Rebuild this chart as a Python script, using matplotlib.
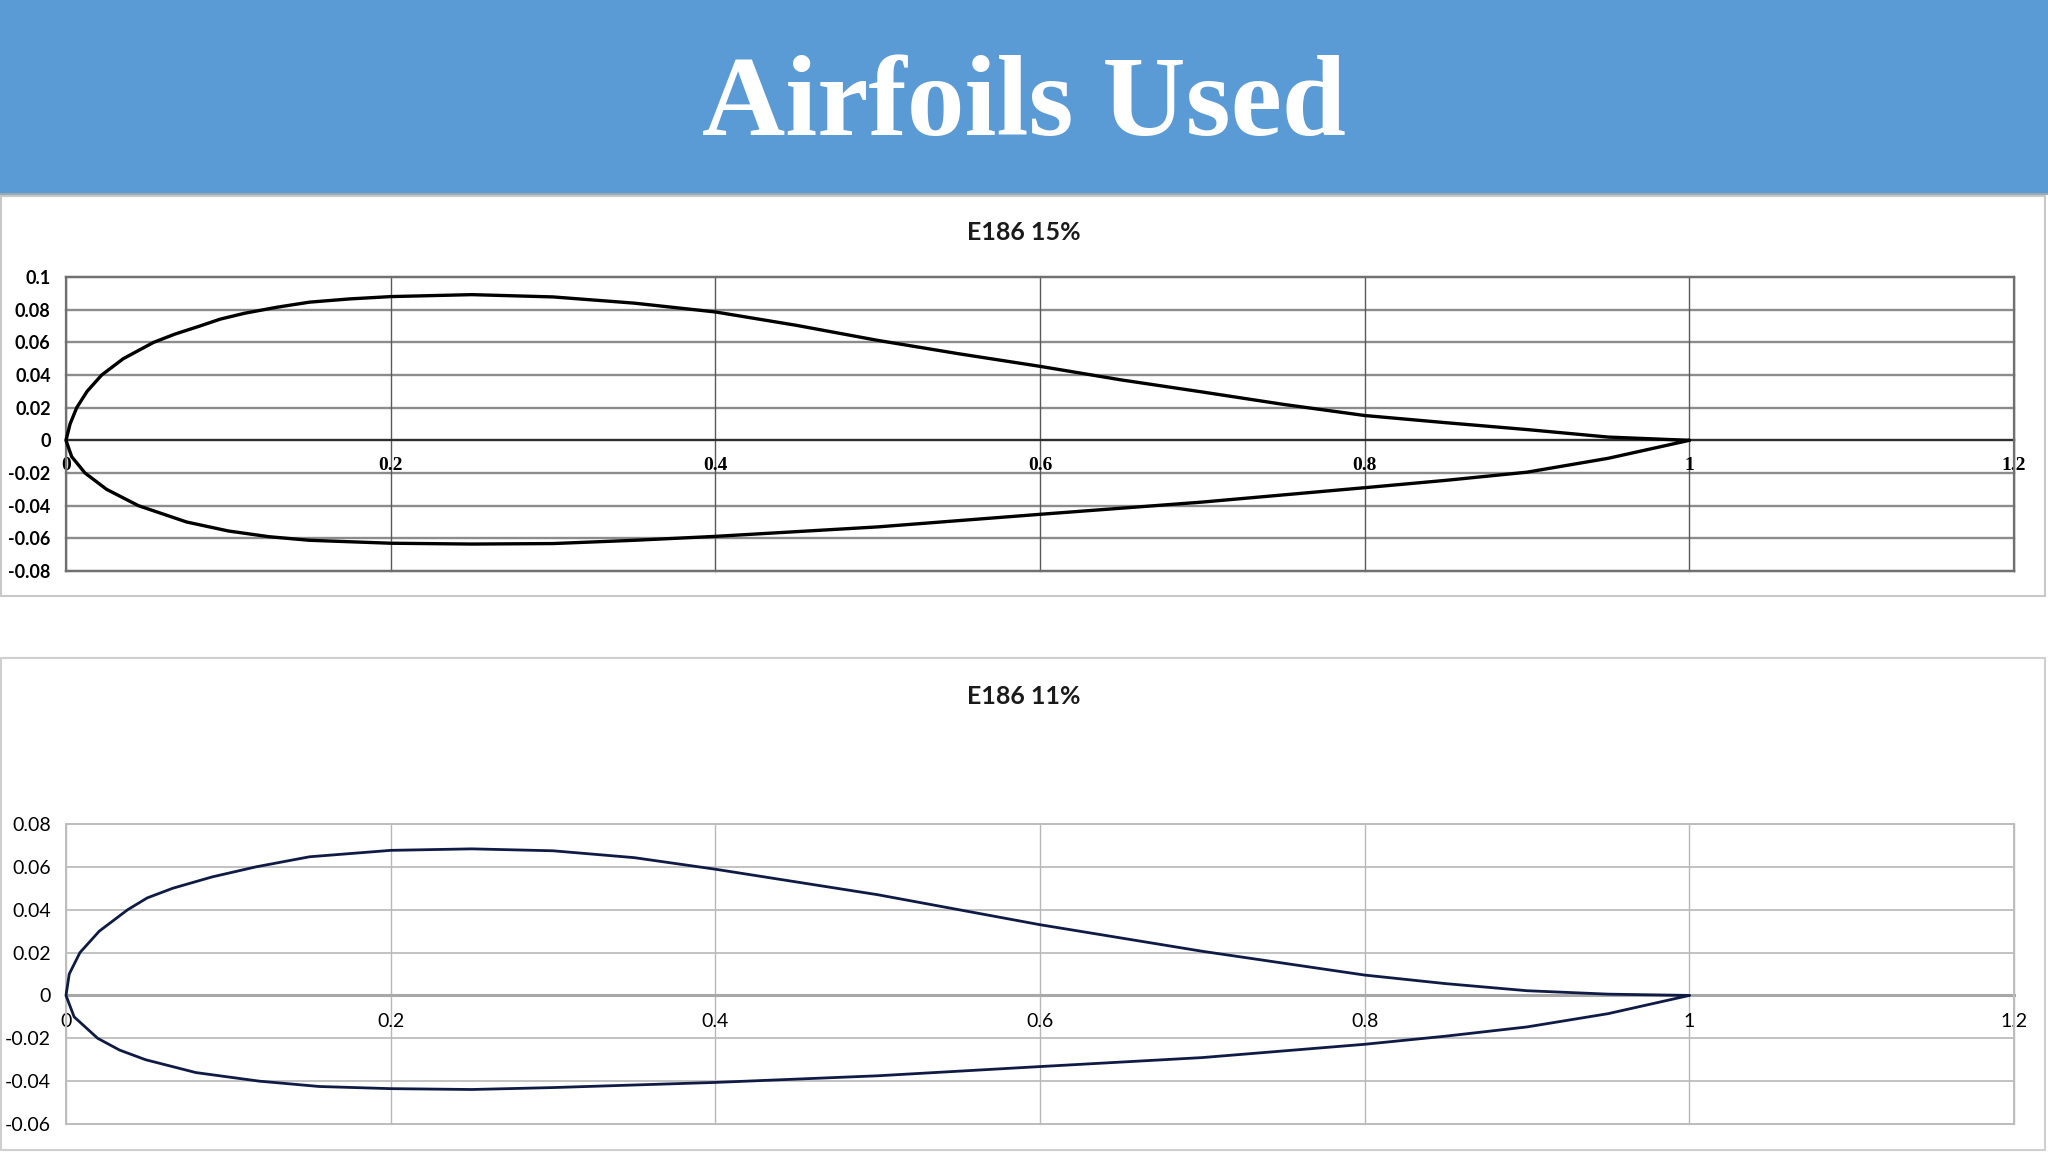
import numpy as np
import matplotlib
matplotlib.use("Agg")
import matplotlib.pyplot as plt
from matplotlib.patches import Rectangle

# ---------------- data ----------------
page_title = "Airfoils Used"

title_15 = "E186 15%"
upper_x_15 = [1.0, 0.95, 0.9, 0.85, 0.8, 0.75, 0.7, 0.65, 0.6, 0.55, 0.5, 0.45, 0.4, 0.35, 0.3,
              0.25, 0.2, 0.175, 0.15, 0.13, 0.11, 0.095, 0.0825, 0.067, 0.054, 0.0353, 0.022,
              0.013, 0.0066, 0.0025, 0.0]
upper_y_15 = [0.0, 0.0020, 0.0066, 0.0108, 0.0152, 0.0220, 0.0296, 0.0370, 0.0453, 0.0530, 0.0612,
              0.0704, 0.0786, 0.0840, 0.0878, 0.0892, 0.0880, 0.0866, 0.0846, 0.0815, 0.0778,
              0.0742, 0.0700, 0.0650, 0.0600, 0.0500, 0.0400, 0.0300, 0.0200, 0.0100, 0.0]
lower_x_15 = [0.0, 0.0035, 0.0117, 0.025, 0.0446, 0.0743, 0.1, 0.125, 0.15, 0.2, 0.25, 0.3, 0.35,
              0.4, 0.5, 0.6, 0.7, 0.8, 0.85, 0.9, 0.95, 1.0]
lower_y_15 = [0.0, -0.0100, -0.0200, -0.0300, -0.0400, -0.0500, -0.0555, -0.0590, -0.0612, -0.0630,
              -0.0635, -0.0632, -0.0612, -0.0588, -0.0530, -0.0453, -0.0378, -0.0290, -0.0245,
              -0.0195, -0.0110, 0.0]

title_11 = "E186 11%"
upper_x_11 = [1.0, 0.95, 0.9, 0.85, 0.8, 0.7, 0.6, 0.5, 0.4, 0.35, 0.3, 0.25, 0.2, 0.15, 0.117,
              0.09, 0.0657, 0.05, 0.038, 0.0205, 0.0086, 0.002, 0.0]
upper_y_11 = [0.0, 0.0006, 0.0022, 0.0055, 0.0095, 0.0206, 0.0330, 0.0470, 0.0589, 0.0643, 0.0675,
              0.0684, 0.0677, 0.0647, 0.0600, 0.0553, 0.0500, 0.0455, 0.0400, 0.0300, 0.0200,
              0.0100, 0.0]
lower_x_11 = [0.0, 0.005, 0.0195, 0.033, 0.049, 0.08, 0.119, 0.156, 0.2, 0.25, 0.3, 0.4, 0.5, 0.6,
              0.7, 0.8, 0.85, 0.9, 0.95, 1.0]
lower_y_11 = [0.0, -0.0100, -0.0200, -0.0255, -0.0300, -0.0360, -0.0400, -0.0425, -0.0435, -0.0439,
              -0.0430, -0.0406, -0.0375, -0.0332, -0.0290, -0.0228, -0.0190, -0.0147, -0.0085, 0.0]

x_ticks = [0, 0.2, 0.4, 0.6, 0.8, 1.0, 1.2]
x_tick_labels = ["0", "0.2", "0.4", "0.6", "0.8", "1", "1.2"]
y_ticks_15 = [-0.08, -0.06, -0.04, -0.02, 0, 0.02, 0.04, 0.06, 0.08, 0.1]
y_tick_labels_15 = ["-0.08", "-0.06", "-0.04", "-0.02", "0", "0.02", "0.04", "0.06", "0.08", "0.1"]
y_ticks_11 = [-0.06, -0.04, -0.02, 0, 0.02, 0.04, 0.06, 0.08]
y_tick_labels_11 = ["-0.06", "-0.04", "-0.02", "0", "0.02", "0.04", "0.06", "0.08"]

# ---------------- figure ----------------
W, H = 2048, 1152
fig = plt.figure(figsize=(W / 100, H / 100), dpi=100)
fig.patch.set_facecolor("white")

def fy(px):
    return 1 - px / H

# header band
fig.patches.append(Rectangle((0, fy(193)), 1, 193 / H, transform=fig.transFigure,
                             facecolor="#5B9BD5", edgecolor="none", zorder=-5))
fig.patches.append(Rectangle((0, fy(195)), 1, 2 / H, transform=fig.transFigure,
                             facecolor="#9aa7b5", edgecolor="none", zorder=-5))
fig.text(0.5, fy(135), page_title, ha="center", va="baseline", color="white",
         fontsize=83, fontweight="bold", family=["Liberation Serif", "DejaVu Serif"])

# chart panels
fig.patches.append(Rectangle((1 / W, fy(596)), 2044 / W, (596 - 196) / H, transform=fig.transFigure,
                             facecolor="white", edgecolor="#c8c8c8", lw=1.5, zorder=-5))
fig.patches.append(Rectangle((1 / W, fy(1150)), 2044 / W, (1150 - 658) / H, transform=fig.transFigure,
                             facecolor="white", edgecolor="#cfcfcf", lw=1.5, zorder=-5))

sans = ["Liberation Sans Narrow", "Lato", "DejaVu Sans"]

def make_chart(rect, title, title_y, ux, uy, lx, ly, yticks, ylabels, style):
    ax = fig.add_axes(rect)
    ax.set_zorder(2)
    ax.set_facecolor("none")
    ymin, ymax = yticks[0], yticks[-1]
    ax.set_xlim(0, 1.2)
    ax.set_ylim(ymin, ymax)
    ax.set_xticks(x_ticks)
    ax.set_xticklabels(x_tick_labels)
    ax.set_yticks(yticks)
    ax.set_yticklabels(ylabels)
    # gridlines
    for yv in yticks:
        if yv == 0:
            continue
        ax.axhline(yv, color=style["hgrid"], lw=style["hlw"], zorder=1, clip_on=False)
    for xv in x_ticks:
        ax.axvline(xv, color=style["vgrid"], lw=style["vlw"], zorder=1, clip_on=False)
    # frame
    for side in ("top", "left", "right"):
        ax.spines[side].set_color(style["frame"])
        ax.spines[side].set_linewidth(style["flw"])
    ax.axhline(ymin, color=style["frame"], lw=style["flw"], zorder=1.5, clip_on=False)
    # zero axis carries the x labels
    ax.spines["bottom"].set_position(("data", 0))
    ax.spines["bottom"].set_color(style["zero"])
    ax.spines["bottom"].set_linewidth(style["zlw"])
    ax.spines["bottom"].set_zorder(1.8)
    ax.tick_params(axis="x", length=0, pad=style["xpad"])
    ax.tick_params(axis="y", length=0, pad=11)
    for lab in ax.get_xticklabels():
        lab.set_family(style["xfont"])
        lab.set_fontsize(style["xsize"])
        lab.set_fontweight(style["xweight"])
    for lab in ax.get_yticklabels():
        lab.set_family(sans)
        lab.set_fontsize(style["ysize"])
        lab.set_fontweight(style["yweight"])
    # airfoil outline
    xs = list(ux) + list(lx)
    ys = list(uy) + list(ly)
    ax.plot(xs, ys, color=style["curve"], lw=style["clw"], solid_joinstyle="round",
            solid_capstyle="round", zorder=3, clip_on=False)
    fig.text(0.5, title_y, title, ha="center", va="center", fontsize=18,
             fontweight="bold", family=sans, color="#1a1a1a")
    return ax

style_top = dict(hgrid="#8c8c8c", hlw=1.7, vgrid="#5a5a5a", vlw=1.0, frame="#707070", flw=1.6,
                 zero="#2e2e2e", zlw=1.7, xpad=12, xfont=["Liberation Serif", "DejaVu Serif"],
                 xsize=14, xweight="bold", ysize=13, yweight="bold", curve="#000000", clw=2.4)
style_bot = dict(hgrid="#c2c2c2", hlw=1.4, vgrid="#b8b8b8", vlw=1.0, frame="#bdbdbd", flw=1.4,
                 zero="#a8a8a8", zlw=2.2, xpad=13, xfont=sans,
                 xsize=14, xweight="normal", ysize=14, yweight="normal", curve="#0f1b45", clw=2.0)

make_chart([66 / W, fy(571), 1948 / W, 294 / H], title_15, fy(232),
           upper_x_15, upper_y_15, lower_x_15, lower_y_15, y_ticks_15, y_tick_labels_15, style_top)
make_chart([66 / W, fy(1124), 1948 / W, 300 / H], title_11, fy(696),
           upper_x_11, upper_y_11, lower_x_11, lower_y_11, y_ticks_11, y_tick_labels_11, style_bot)

fig.savefig("out.png", dpi=100, facecolor=fig.get_facecolor())
